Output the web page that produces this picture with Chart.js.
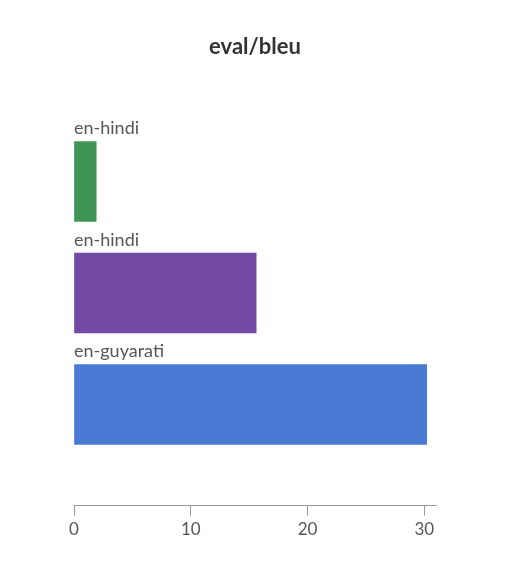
<!DOCTYPE html>
<html><head><meta charset="utf-8">
<script src="https://cdn.jsdelivr.net/npm/chart.js@4"></script>
<style>html,body{margin:0;background:#fff}#w{width:508px;height:564px}</style>
</head><body><div id="w"><canvas id="c"></canvas></div>
<script>
const categories = ["en-hindi", "en-hindi", "en-guyarati"];
const values = [1.9, 15.6, 30.2];
const colors = ["#3f9556", "#7349a6", "#4a7bd4"];
const xTicks = [0, 10, 20, 30];

const labelPlugin = {
  id: 'lbl',
  afterDatasetsDraw(chart) {
    const ctx = chart.ctx;
    const meta = chart.getDatasetMeta(0);
    ctx.save();
    ctx.font = '18px Lato';
    ctx.fillStyle = '#555';
    ctx.textBaseline = 'bottom';
    meta.data.forEach((b, i) => {
      ctx.fillText(categories[i], chart.scales.x.getPixelForValue(0), b.y - b.height / 2 - 4);
    });
    ctx.restore();
  }
};

new Chart(document.getElementById('c'), {
  type: 'bar',
  data: {
    datasets: [{
      data: values.map((v, i) => ({x: v, y: i})),
      backgroundColor: colors,
      barThickness: 80
    }]
  },
  plugins: [labelPlugin],
  options: {
    indexAxis: 'y',
    responsive: true,
    maintainAspectRatio: false,
    animation: false,
    layout: {padding: {left: 74, right: 72, top: 0, bottom: 20}},
    plugins: {
      legend: {display: false},
      tooltip: {enabled: false},
      title: {display: true, text: 'eval/bleu', color: '#333',
        font: {family: 'Lato', size: 22, weight: 'bold'}, padding: {top: 34, bottom: 40}}
    },
    scales: {
      y: {type: 'linear', reverse: true, min: -0.5, max: 2.68, display: false},
      x: {
        type: 'linear', min: 0, max: 31,
        afterBuildTicks: s => { s.ticks = xTicks.map(v => ({value: v})); },
        grid: {drawOnChartArea: false, tickLength: 10, color: '#999'},
        border: {color: '#999'},
        ticks: {color: '#555', font: {family: 'Lato', size: 17}, padding: 4}
      }
    }
  }
});
</script></body></html>
